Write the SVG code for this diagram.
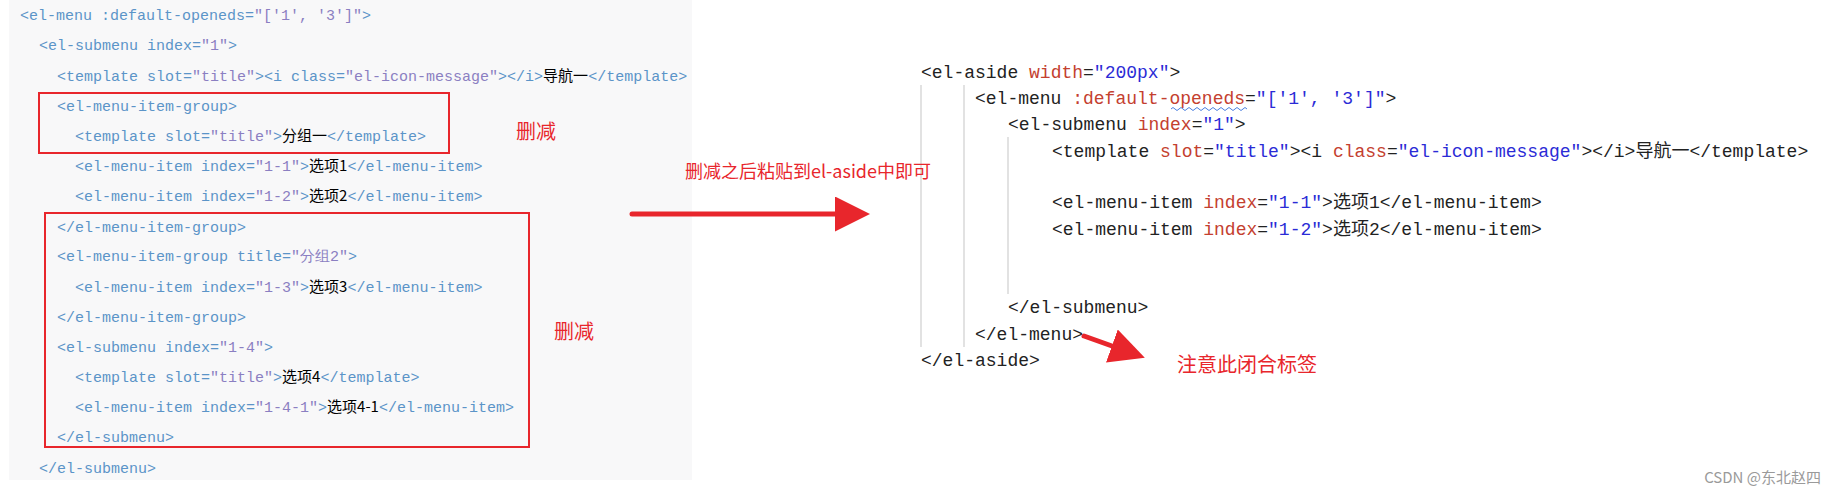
<svg xmlns="http://www.w3.org/2000/svg" width="1836" height="495" viewBox="0 0 1836 495">
<style>
.l{font-family:"Liberation Mono",monospace;font-size:15px;fill:#5b94c8;white-space:pre}
.r{font-family:"Liberation Mono",monospace;font-size:18px;fill:#222;white-space:pre}
.v{fill:#8b7fc2}.k{fill:#000;font-family:"Noto Sans CJK SC",sans-serif}
.a{fill:#c4402f}.b{fill:#2b2bd6}
.red{font-family:"Noto Sans CJK SC",sans-serif;fill:#e8262c}
.box{fill:none;stroke:#e8262c;stroke-width:2}
.guide{stroke:#d8d8d8;stroke-width:1.5}
</style>
<defs>
<marker id="ah" markerWidth="7" markerHeight="7" refX="3" refY="3.5" orient="auto" markerUnits="strokeWidth"><path d="M0,0 L7,3.5 L0,7 z" fill="#e8262c"/></marker>
</defs>
<rect x="9" y="0" width="683" height="480" fill="#f8f8f9"/>
<g id="left-code">
<text class="l" x="20" y="20">&lt;el-menu :default-openeds=<tspan class="v">"['1', '3']"</tspan>&gt;</text>
<text class="l" x="39" y="50">&lt;el-submenu index=<tspan class="v">"1"</tspan>&gt;</text>
<text class="l" x="57" y="81">&lt;template slot=<tspan class="v">"title"</tspan>&gt;&lt;i class=<tspan class="v">"el-icon-message"</tspan>&gt;&lt;/i&gt;<tspan class="k">导航一</tspan>&lt;/template&gt;</text>
<text class="l" x="57" y="111">&lt;el-menu-item-group&gt;</text>
<text class="l" x="75" y="141">&lt;template slot=<tspan class="v">"title"</tspan>&gt;<tspan class="k">分组一</tspan>&lt;/template&gt;</text>
<text class="l" x="75" y="171">&lt;el-menu-item index=<tspan class="v">"1-1"</tspan>&gt;<tspan class="k">选项1</tspan>&lt;/el-menu-item&gt;</text>
<text class="l" x="75" y="201">&lt;el-menu-item index=<tspan class="v">"1-2"</tspan>&gt;<tspan class="k">选项2</tspan>&lt;/el-menu-item&gt;</text>
<text class="l" x="57" y="232">&lt;/el-menu-item-group&gt;</text>
<text class="l" x="57" y="261">&lt;el-menu-item-group title=<tspan class="v">"分组2"</tspan>&gt;</text>
<text class="l" x="75" y="292">&lt;el-menu-item index=<tspan class="v">"1-3"</tspan>&gt;<tspan class="k">选项3</tspan>&lt;/el-menu-item&gt;</text>
<text class="l" x="57" y="322">&lt;/el-menu-item-group&gt;</text>
<text class="l" x="57" y="352">&lt;el-submenu index=<tspan class="v">"1-4"</tspan>&gt;</text>
<text class="l" x="75" y="382">&lt;template slot=<tspan class="v">"title"</tspan>&gt;<tspan class="k">选项4</tspan>&lt;/template&gt;</text>
<text class="l" x="75" y="412">&lt;el-menu-item index=<tspan class="v">"1-4-1"</tspan>&gt;<tspan class="k">选项4-1</tspan>&lt;/el-menu-item&gt;</text>
<text class="l" x="57" y="442">&lt;/el-submenu&gt;</text>
<text class="l" x="39" y="473">&lt;/el-submenu&gt;</text>
</g>
<g id="box1"><rect class="box" x="39" y="93" width="410" height="60"/><text class="red" x="516" y="139" font-size="20">删减</text></g>
<g id="box2"><rect class="box" x="45" y="213" width="484" height="234"/><text class="red" x="554" y="339" font-size="20">删减</text></g>
<g id="right-code">
<line class="guide" x1="921" y1="85" x2="921" y2="347"/>
<line class="guide" x1="964" y1="85" x2="964" y2="347"/>
<line class="guide" x1="1008" y1="137" x2="1008" y2="294"/>
<text class="r" x="921" y="78">&lt;el-aside <tspan class="a">width</tspan>=<tspan class="b">"200px"</tspan>&gt;</text>
<text class="r" x="975" y="104">&lt;el-menu <tspan class="a">:default-openeds</tspan>=<tspan class="b">"['1', '3']"</tspan>&gt;</text>
<path d="M1171,109 q2,-3 4,0 t4,0 t4,0 t4,0 t4,0 t4,0 t4,0 t4,0 t4,0 t4,0 t4,0 t4,0 t4,0 t4,0 t4,0 t4,0 t4,0 t4,0 t4,0" fill="none" stroke="#4a7fe0" stroke-width="1"/>
<text class="r" x="1008" y="130">&lt;el-submenu <tspan class="a">index</tspan>=<tspan class="b">"1"</tspan>&gt;</text>
<text class="r" x="1052" y="157">&lt;template <tspan class="a">slot</tspan>=<tspan class="b">"title"</tspan>&gt;&lt;i <tspan class="a">class</tspan>=<tspan class="b">"el-icon-message"</tspan>&gt;&lt;/i&gt;<tspan font-family="Noto Sans CJK SC">导航一</tspan>&lt;/template&gt;</text>
<text class="r" x="1052" y="208">&lt;el-menu-item <tspan class="a">index</tspan>=<tspan class="b">"1-1"</tspan>&gt;<tspan font-family="Noto Sans CJK SC">选项</tspan>1&lt;/el-menu-item&gt;</text>
<text class="r" x="1052" y="235">&lt;el-menu-item <tspan class="a">index</tspan>=<tspan class="b">"1-2"</tspan>&gt;<tspan font-family="Noto Sans CJK SC">选项</tspan>2&lt;/el-menu-item&gt;</text>
<text class="r" x="1008" y="313">&lt;/el-submenu&gt;</text>
<text class="r" x="975" y="340">&lt;/el-menu&gt;</text>
<text class="r" x="921" y="366">&lt;/el-aside&gt;</text>
</g>
<g id="connectors">
<line x1="632" y1="214" x2="850" y2="214" stroke="#e8262c" stroke-width="5" stroke-linecap="round" marker-end="url(#ah)"/>
<line x1="1084" y1="336" x2="1126" y2="351" stroke="#e8262c" stroke-width="5" stroke-linecap="round" marker-end="url(#ah)"/>
</g>
<text class="red" x="685" y="178" font-size="18">删减之后粘贴到el-aside中即可</text>
<text class="red" x="1177" y="372" font-size="20">注意此闭合标签</text>
<text x="1821" y="483" text-anchor="end" font-family="'Noto Sans CJK SC',sans-serif" font-size="15" fill="#9a9a9a">CSDN @东北赵四</text>
</svg>
